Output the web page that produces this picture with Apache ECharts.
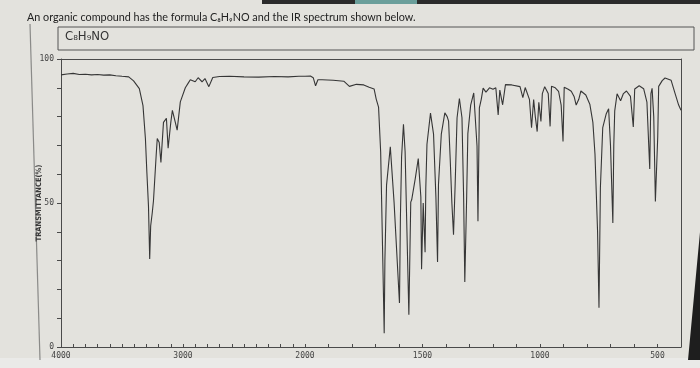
<!DOCTYPE html>
<html>
<head>
<meta charset="utf-8">
<script src="https://cdn.jsdelivr.net/npm/echarts@6/dist/echarts.min.js"></script>
<style>
html,body{margin:0;padding:0;background:#e3e2dd;}
#chart{width:700px;height:368px;}
</style>
</head>
<body>
<div id="chart"></div>
<script>
// ---- data (wavenumber cm-1, transmittance %) ----
const highWn = [4000,3950,3900,3850,3800,3750,3700,3650,3600,3550,3500,3445,3405,3358,3328,3308,3296,3283,3273,3265,3252,3242,3220,3211,3195,3181,3160,3136,3122,3100,3087,3063,3048,3022,2981,2956,2940,2900,2876,2844,2820,2788,2756,2700,2620,2500,2379,2250,2139,2050,2000];
const highT  = [94.5,94.8,95.0,94.6,94.7,94.5,94.6,94.4,94.5,94.2,94.0,93.8,92.4,89.7,83.8,72.3,60.5,49.0,30.6,42.0,46.6,50.8,66.5,72.4,71.0,64.1,78.0,79.4,69.0,78.0,82.2,78.0,75.3,85.1,90.0,91.7,92.8,92.1,93.5,92.1,93.2,90.4,93.6,93.9,94.0,93.8,93.7,93.9,93.8,94.0,94.0];

const lowWn = [2000,1977,1965,1955,1945,1927,1880,1835,1811,1781,1750,1727,1706,1697,1687,1678,1670,1663,1660,1653,1637,1621,1598,1594,1589,1581,1574,1558,1550,1546,1531,1518,1507,1504,1497,1489,1486,1481,1466,1453,1443,1436,1432,1420,1405,1395,1389,1382,1375,1368,1361,1353,1343,1332,1325,1320,1312,1307,1295,1282,1268,1264,1258,1250,1242,1230,1215,1200,1188,1178,1171,1159,1147,1120,1085,1073,1063,1045,1036,1027,1020,1012,1005,996,990,980,965,957,951,935,921,910,902,897,880,867,855,846,842,835,826,805,788,775,766,755,749,743,733,718,708,700,690,686,682,672,657,645,632,615,603,597,578,559,545,533,528,523,516,509,499,495,480,468,442,425,410,400];
const lowT  = [94.0,94.1,93.5,90.7,92.8,92.8,92.6,92.3,90.5,91.2,91.0,90.2,89.6,86.1,83.3,67.7,34.5,4.8,30.0,56.2,69.5,50.3,15.3,45.0,66.0,77.3,67.8,11.2,50.3,51.1,58.4,65.4,52.1,27.0,50.0,32.9,55.0,70.4,81.2,73.9,52.2,29.5,56.4,73.9,81.3,80.0,78.4,65.0,50.0,39.0,56.5,79.5,86.3,79.6,52.0,22.6,52.4,74.1,84.0,88.2,69.8,43.7,83.0,86.0,89.9,88.5,90.0,89.5,90.0,80.6,89.2,84.1,91.1,91.0,90.4,86.6,90.1,86.0,76.1,85.9,80.0,74.8,85.0,78.3,88.0,90.4,88.0,76.6,90.5,90.0,88.8,84.0,71.4,90.2,89.5,88.8,87.0,84.0,83.7,86.0,88.9,87.5,84.3,78.0,66.9,40.0,13.6,55.3,76.2,81.0,82.7,70.0,43.1,70.0,82.0,87.9,85.5,88.0,88.9,87.0,76.4,89.6,90.7,89.7,85.0,61.8,88.0,89.8,80.0,50.5,73.0,90.5,92.5,93.4,92.6,88.0,84.0,82.2];

// ---- tick labels ----
const yTickLabels = [0, 50, 100];
const xTickLabelsHigh = [4000, 3000, 2000];
const xTickLabelsLow = [1500, 1000, 500];

const titleText = 'An organic compound has the formula C\u2088H\u2089NO and the IR spectrum shown below.';
const boxText = 'C\u2088H\u2089NO';
const yName = 'TRANSMITTANCE(%)';

const highData = highWn.map((w, i) => [w, highT[i]]);
const lowData = lowWn.map((w, i) => [w, lowT[i]]);

const axisColor = '#4a4a4a';
const labelStyle = {color: '#444', fontSize: 8, fontFamily: 'DejaVu Sans Mono'};

const chart = echarts.init(document.getElementById('chart'));
chart.setOption({
  backgroundColor: '#e3e2dd',
  animation: false,
  title: {
    text: titleText,
    left: 22, top: 7,
    textStyle: {fontSize: 10.8, fontWeight: 'normal', color: '#222', fontFamily: 'Lato'}
  },
  grid: [
    {left: 61, top: 59, width: 244, height: 288},
    {left: 305, top: 59, width: 376, height: 288}
  ],
  xAxis: [
    {gridIndex: 0, type: 'value', min: 2000, max: 4000, inverse: true, interval: 100, position: 'bottom',
     axisLine: {show: true, lineStyle: {color: axisColor, width: 1}},
     axisTick: {show: true, inside: true, length: 3, lineStyle: {color: axisColor}},
     axisLabel: Object.assign({margin: 5, formatter: v => xTickLabelsHigh.includes(v) ? String(v) : ''}, labelStyle),
     splitLine: {show: false}},
    {gridIndex: 0, type: 'value', min: 2000, max: 4000, inverse: true, position: 'top',
     axisLine: {show: true, lineStyle: {color: axisColor, width: 1}},
     axisTick: {show: false}, axisLabel: {show: false}, splitLine: {show: false}},
    {gridIndex: 1, type: 'value', min: 400, max: 2000, inverse: true, interval: 100, position: 'bottom',
     axisLine: {show: true, lineStyle: {color: axisColor, width: 1}},
     axisTick: {show: true, inside: true, length: 3, lineStyle: {color: axisColor}},
     axisLabel: Object.assign({margin: 5, formatter: v => xTickLabelsLow.includes(v) ? String(v) : ''}, labelStyle),
     splitLine: {show: false}},
    {gridIndex: 1, type: 'value', min: 400, max: 2000, inverse: true, position: 'top',
     axisLine: {show: true, lineStyle: {color: axisColor, width: 1}},
     axisTick: {show: false}, axisLabel: {show: false}, splitLine: {show: false}}
  ],
  yAxis: [
    {gridIndex: 0, type: 'value', min: 0, max: 100, interval: 10,
     axisLine: {show: true, lineStyle: {color: axisColor, width: 1}},
     axisTick: {show: true, inside: false, length: 4, lineStyle: {color: axisColor}},
     axisLabel: Object.assign({margin: 7, formatter: v => yTickLabels.includes(v) ? String(v) : ''}, labelStyle),
     splitLine: {show: false},
     name: yName, nameLocation: 'middle', nameGap: 18, nameRotate: 90, nameMoveOverlap: false,
     nameTextStyle: {fontSize: 7.5, fontWeight: 'bold', color: '#3a3a3a', fontFamily: 'DejaVu Sans Condensed'}},
    {gridIndex: 1, type: 'value', min: 0, max: 100, position: 'right',
     axisLine: {show: true, lineStyle: {color: axisColor, width: 1}},
     axisTick: {show: false}, axisLabel: {show: false}, splitLine: {show: false}}
  ],
  series: [
    {type: 'line', xAxisIndex: 0, yAxisIndex: 0, data: highData, showSymbol: false,
     lineStyle: {color: '#363636', width: 1.1}, clip: true},
    {type: 'line', xAxisIndex: 2, yAxisIndex: 1, data: lowData, showSymbol: false,
     lineStyle: {color: '#363636', width: 1.1}, clip: true}
  ],
  graphic: [
    {type: 'rect', shape: {x: 0, y: 358, width: 700, height: 10}, style: {fill: '#eaeae8'}, silent: true},
    {type: 'rect', shape: {x: 262, y: 0, width: 438, height: 4}, style: {fill: '#2b2b2b'}, silent: true},
    {type: 'rect', shape: {x: 355, y: 0, width: 62, height: 4}, style: {fill: '#6a9e9a'}, silent: true},
    {type: 'polygon', shape: {points: [[700, 232], [688, 360], [700, 360]]}, style: {fill: '#1e1e1e'}, silent: true},
    {type: 'line', shape: {x1: 30, y1: 24, x2: 40, y2: 360}, style: {stroke: '#8a8a88', lineWidth: 1.2}, silent: true},
    {type: 'rect', shape: {x: 58, y: 27, width: 636, height: 23}, style: {fill: 'none', stroke: '#555', lineWidth: 1}, silent: true},
    {type: 'text', left: 65, top: 30, style: {text: boxText, fontSize: 13, fill: '#333', fontFamily: 'DejaVu Sans Condensed'}, silent: true}
  ]
});
</script>
</body>
</html>
